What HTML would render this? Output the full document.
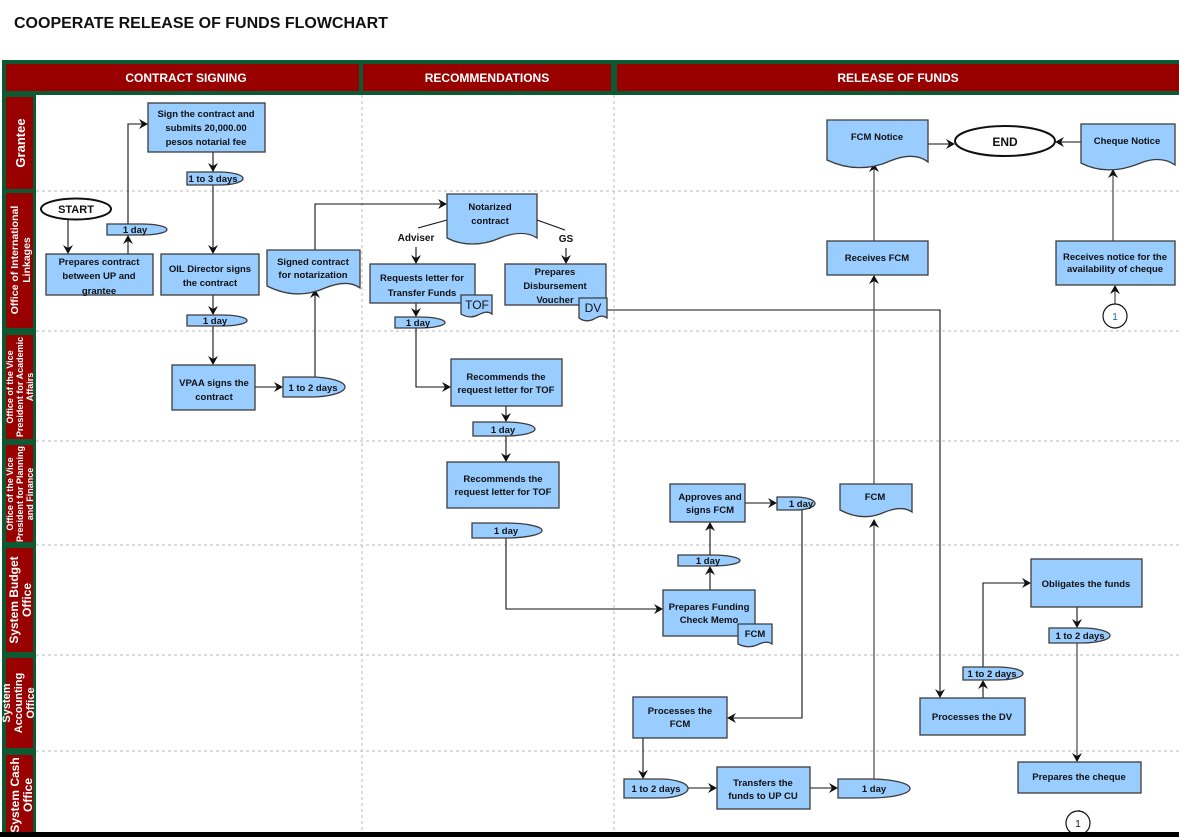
<!DOCTYPE html>
<html><head><meta charset="utf-8"><style>
html,body{margin:0;padding:0;background:#fff;}
svg{display:block;font-family:"Liberation Sans",Arial,sans-serif;}
.b{fill:#99ccff;stroke:#3c3c3c;stroke-width:1.3;}
.t{font-size:9.5px;font-weight:bold;fill:#111;text-anchor:middle;}
.l{stroke:#111;stroke-width:1.1;fill:none;}
.g{stroke:#555;stroke-width:1.3;fill:none;}
.lane{fill:#fff;font-size:10.5px;font-weight:bold;text-anchor:middle;}
.d{stroke:#bbb;stroke-width:1;stroke-dasharray:3,3;}
</style></head><body>
<svg width="1179" height="837" viewBox="0 0 1179 837" xmlns="http://www.w3.org/2000/svg">
<defs>
<marker id="a" markerWidth="10" markerHeight="10" refX="8" refY="5" orient="auto" markerUnits="userSpaceOnUse"><path d="M0,0 L9,5 L0,10 L3,5 Z" fill="#111"/></marker>
</defs>
<rect width="1179" height="837" fill="#fff"/>
<text x="14" y="28" font-size="16" font-weight="bold" fill="#111">COOPERATE RELEASE OF FUNDS FLOWCHART</text>
<!-- header -->
<rect x="2" y="60" width="1177" height="35" fill="#0b5a33"/>
<rect x="6" y="64" width="353" height="27" fill="#990000"/>
<rect x="363" y="64" width="248" height="27" fill="#990000"/>
<rect x="617" y="64" width="562" height="27" fill="#990000"/>
<text x="186" y="82" font-size="12" font-weight="bold" fill="#fff" text-anchor="middle">CONTRACT SIGNING</text>
<text x="487" y="82" font-size="12" font-weight="bold" fill="#fff" text-anchor="middle">RECOMMENDATIONS</text>
<text x="898" y="82" font-size="12" font-weight="bold" fill="#fff" text-anchor="middle">RELEASE OF FUNDS</text>
<!-- lane labels -->
<rect x="2" y="94" width="34" height="740" fill="#0b5a33"/>
<g fill="#990000">
<rect x="6" y="97" width="27" height="92"/>
<rect x="6" y="193" width="27" height="135"/>
<rect x="6" y="335" width="27" height="104"/>
<rect x="6" y="445" width="27" height="97"/>
<rect x="6" y="548" width="27" height="104"/>
<rect x="6" y="658" width="27" height="90"/>
<rect x="6" y="755" width="27" height="80"/>
</g>
<g class="lane">
<text transform="translate(25,143) rotate(-90)" font-size="13">Grantee</text>
<text transform="translate(18,260) rotate(-90)">Office of International</text>
<text transform="translate(30,260) rotate(-90)">Linkages</text>
<text transform="translate(13,387) rotate(-90)" font-size="9">Office of the Vice</text>
<text transform="translate(23,387) rotate(-90)" font-size="9">President for Academic</text>
<text transform="translate(33,387) rotate(-90)" font-size="9">Affairs</text>
<text transform="translate(13,494) rotate(-90)" font-size="9">Office of the Vice</text>
<text transform="translate(23,494) rotate(-90)" font-size="9">President for Planning</text>
<text transform="translate(33,494) rotate(-90)" font-size="9">and Finance</text>
<text transform="translate(18,600) rotate(-90)" font-size="12">System Budget</text>
<text transform="translate(31,600) rotate(-90)" font-size="12">Office</text>
<text transform="translate(10,703) rotate(-90)" font-size="11">System</text>
<text transform="translate(22,703) rotate(-90)" font-size="11">Accounting</text>
<text transform="translate(34,703) rotate(-90)" font-size="11">Office</text>
<text transform="translate(19,795) rotate(-90)" font-size="12">System Cash</text>
<text transform="translate(32,795) rotate(-90)" font-size="12">Office</text>
</g>
<!-- grid -->
<g class="d">
<line x1="36" y1="191" x2="1179" y2="191"/>
<line x1="36" y1="331" x2="1179" y2="331"/>
<line x1="36" y1="441" x2="1179" y2="441"/>
<line x1="36" y1="545" x2="1179" y2="545"/>
<line x1="36" y1="655" x2="1179" y2="655"/>
<line x1="36" y1="751" x2="1179" y2="751"/>
<line x1="362" y1="95" x2="362" y2="832"/>
<line x1="614" y1="95" x2="614" y2="832"/>
</g>
<!-- connectors -->
<g class="l">
<path d="M68,219 V253" marker-end="url(#a)"/>
<path d="M128,254 V236" marker-end="url(#a)"/>
<path d="M128,224 V124 H147" marker-end="url(#a)"/>
<path d="M213,152 V171" marker-end="url(#a)"/>
<path d="M213,185 V253" marker-end="url(#a)"/>
<path d="M213,295 V314" marker-end="url(#a)"/>
<path d="M213,326 V364" marker-end="url(#a)"/>
<path d="M255,387 H282" marker-end="url(#a)"/>
<path d="M315,377 V290" marker-end="url(#a)"/>
<path d="M315,250 V204 H446" marker-end="url(#a)"/>
<path d="M447,220 L418,228"/>
<path d="M537,220 L565,230"/>
<path d="M416,247 V263" marker-end="url(#a)"/>
<path d="M566,248 V263" marker-end="url(#a)"/>
<path d="M416,303 V316" marker-end="url(#a)"/>
<path d="M416,328 V387 H450" marker-end="url(#a)"/>
<path d="M506,406 V421" marker-end="url(#a)"/>
<path d="M506,436 V461" marker-end="url(#a)"/>
<path d="M506,538 V609 H662" marker-end="url(#a)"/>
<path d="M710,590 V567" marker-end="url(#a)"/>
<path d="M710,555 V523" marker-end="url(#a)"/>
<path d="M745,503 H776" marker-end="url(#a)"/>
<path d="M802,510 V718 H728" marker-end="url(#a)"/>
<path d="M643,738 V778" marker-end="url(#a)"/>
<path d="M688,788 H716" marker-end="url(#a)"/>
<path d="M810,788 H837" marker-end="url(#a)"/>
<path d="M607,310 H940 V697" marker-end="url(#a)"/>
<path d="M983,698 V681" marker-end="url(#a)"/>
<path d="M983,667 V583 H1030" marker-end="url(#a)"/>
<path d="M1077,607 V627" marker-end="url(#a)"/>
<path d="M1079,810 V820" marker-end="url(#a)"/>
<path d="M928,144 H954" marker-end="url(#a)"/>
<path d="M1081,142 H1056" marker-end="url(#a)"/>
</g>
<g class="g">
<path d="M874,779 V520" marker-end="url(#a)"/>
<path d="M874,484 V276" marker-end="url(#a)"/>
<path d="M874,241 V164" marker-end="url(#a)"/>
<path d="M1077,643 V761" marker-end="url(#a)"/>
<path d="M1113,241 V170" marker-end="url(#a)"/>
<path d="M1115,304 V286" marker-end="url(#a)"/>
</g>
<!-- boxes -->
<rect class="b" x="148" y="103" width="117" height="49"/>
<text class="t" x="206" y="117">Sign the contract and</text>
<text class="t" x="206" y="131">submits 20,000.00</text>
<text class="t" x="206" y="145">pesos notarial fee</text>
<rect class="b" x="46" y="254" width="107" height="41"/>
<text class="t" x="99" y="265">Prepares contract</text>
<text class="t" x="99" y="279">between UP and</text>
<text class="t" x="99" y="294">grantee</text>
<rect class="b" x="161" y="254" width="98" height="41"/>
<text class="t" x="210" y="272">OIL Director signs</text>
<text class="t" x="210" y="286">the contract</text>
<rect class="b" x="172" y="365" width="83" height="45"/>
<text class="t" x="214" y="386">VPAA signs the</text>
<text class="t" x="214" y="400">contract</text>
<rect class="b" x="370" y="264" width="105" height="39"/>
<text class="t" x="422" y="281">Requests letter for</text>
<text class="t" x="422" y="296">Transfer Funds</text>
<rect class="b" x="505" y="264" width="101" height="41"/>
<text class="t" x="555" y="275">Prepares</text>
<text class="t" x="555" y="289">Disbursement</text>
<text class="t" x="555" y="303">Voucher</text>
<rect class="b" x="451" y="359" width="111" height="47"/>
<text class="t" x="506" y="380">Recommends the</text>
<text class="t" x="506" y="393">request letter for TOF</text>
<rect class="b" x="447" y="462" width="112" height="46"/>
<text class="t" x="503" y="482">Recommends the</text>
<text class="t" x="503" y="495">request letter for TOF</text>
<rect class="b" x="663" y="590" width="92" height="46"/>
<text class="t" x="709" y="610">Prepares Funding</text>
<text class="t" x="709" y="623">Check Memo</text>
<rect class="b" x="670" y="484" width="75" height="38"/>
<text class="t" x="710" y="500">Approves and</text>
<text class="t" x="710" y="513">signs FCM</text>
<rect class="b" x="633" y="697" width="94" height="41"/>
<text class="t" x="680" y="714">Processes the</text>
<text class="t" x="680" y="727">FCM</text>
<rect class="b" x="717" y="767" width="93" height="42"/>
<text class="t" x="763" y="786">Transfers the</text>
<text class="t" x="763" y="799">funds to UP CU</text>
<rect class="b" x="920" y="698" width="105" height="37"/>
<text class="t" x="972" y="720">Processes the DV</text>
<rect class="b" x="1031" y="559" width="111" height="48"/>
<text class="t" x="1086" y="587" font-size="11">Obligates the funds</text>
<rect class="b" x="1018" y="762" width="123" height="31"/>
<text class="t" x="1079" y="780">Prepares the cheque</text>
<rect class="b" x="827" y="241" width="101" height="34"/>
<text class="t" x="877" y="261">Receives FCM</text>
<rect class="b" x="1056" y="241" width="119" height="44"/>
<text class="t" x="1115" y="260">Receives notice for the</text>
<text class="t" x="1115" y="272">availability of cheque</text>
<!-- documents -->
<g class="b">
<path d="M267,250 H360 V288 C352,282 340,282 325,288 C305,297 285,295 267,286 Z"/>
<path d="M447,194 H537 V238 C528,232 515,232 500,238 C482,246 462,246 447,238 Z"/>
<path d="M461,295 H492 V314 C488,311 484,312 478,315 C472,318 466,317 461,314 Z"/>
<path d="M579,298 H607 V318 C603,315 599,316 594,319 C588,322 583,321 579,318 Z"/>
<path d="M738,624 H772 V644 C768,641 763,642 757,645 C750,648 744,647 738,644 Z"/>
<path d="M840,484 H912 V512 C905,507 895,508 885,512 C870,519 855,518 840,510 Z"/>
<path d="M827,120 H928 V162 C918,154 905,155 890,161 C870,170 848,170 827,160 Z"/>
<path d="M1081,124 H1175 V165 C1165,158 1152,158 1138,164 C1118,172 1098,172 1081,163 Z"/>
</g>
<text class="t" x="313" y="265">Signed contract</text>
<text class="t" x="313" y="278">for notarization</text>
<text class="t" x="490" y="210">Notarized</text>
<text class="t" x="490" y="224">contract</text>
<text x="477" y="309" font-size="12" text-anchor="middle" fill="#111">TOF</text>
<text x="593" y="312" font-size="12" text-anchor="middle" fill="#111">DV</text>
<text class="t" x="755" y="637">FCM</text>
<text class="t" x="875" y="500">FCM</text>
<text class="t" x="877" y="140">FCM Notice</text>
<text class="t" x="1127" y="144">Cheque Notice</text>
<text x="416" y="241" font-size="10" font-weight="bold" text-anchor="middle" fill="#111">Adviser</text>
<text x="566" y="242" font-size="10" font-weight="bold" text-anchor="middle" fill="#111">GS</text>
<!-- terminators -->
<ellipse cx="76" cy="209" rx="35" ry="10.5" fill="#fff" stroke="#111" stroke-width="2"/>
<text x="76" y="213" font-size="11" font-weight="bold" text-anchor="middle" fill="#111">START</text>
<ellipse cx="1005" cy="141" rx="50" ry="15" fill="#fff" stroke="#111" stroke-width="2"/>
<text x="1005" y="146" font-size="12" font-weight="bold" text-anchor="middle" fill="#111">END</text>
<circle cx="1115" cy="316" r="12" fill="#fff" stroke="#111" stroke-width="1.2"/>
<text x="1115" y="320" font-size="10" text-anchor="middle" fill="#1560a8">1</text>
<circle cx="1078" cy="823" r="12" fill="#fff" stroke="#111" stroke-width="1.2"/>
<text x="1078" y="827" font-size="10" text-anchor="middle" fill="#111">1</text>
<!-- delays -->
<g class="b" stroke-width="1">
<path d="M187,172 H219 A24,6.5 0 0 1 219,185 H187 Z"/>
<path d="M107,224 H142 A25,5.5 0 0 1 142,235 H107 Z"/>
<path d="M187,315 H222 A25,5.5 0 0 1 222,326 H187 Z"/>
<path d="M283,377 H310 A35,10 0 0 1 310,397 H283 Z"/>
<path d="M395,317 H420 A25,5.5 0 0 1 420,328 H395 Z"/>
<path d="M473,422 H505 A30,7 0 0 1 505,436 H473 Z"/>
<path d="M472,523 H505 A37,7.5 0 0 1 505,538 H472 Z"/>
<path d="M678,555 H712 A28,5.5 0 0 1 712,566 H678 Z"/>
<path d="M777,497 H795 A20,6.5 0 0 1 795,510 H777 Z"/>
<path d="M624,779 H660 A28,9.5 0 0 1 660,798 H624 Z"/>
<path d="M838,779 H870 A40,9.5 0 0 1 870,798 H838 Z"/>
<path d="M963,667 H997 A26,6.5 0 0 1 997,680 H963 Z"/>
<path d="M1049,628 H1082 A28,7.5 0 0 1 1082,643 H1049 Z"/>
</g>
<g class="t" font-size="9">
<text x="213" y="182">1 to 3 days</text>
<text x="135" y="233">1 day</text>
<text x="215" y="324">1 day</text>
<text x="313" y="391">1 to 2 days</text>
<text x="418" y="326">1 day</text>
<text x="503" y="433">1 day</text>
<text x="506" y="534">1 day</text>
<text x="708" y="564">1 day</text>
<text x="801" y="507">1 day</text>
<text x="656" y="792">1 to 2 days</text>
<text x="874" y="792">1 day</text>
<text x="992" y="677">1 to 2 days</text>
<text x="1080" y="639">1 to 2 days</text>
</g>
<rect x="0" y="832" width="1179" height="5" fill="#000"/>
</svg>
</body></html>
